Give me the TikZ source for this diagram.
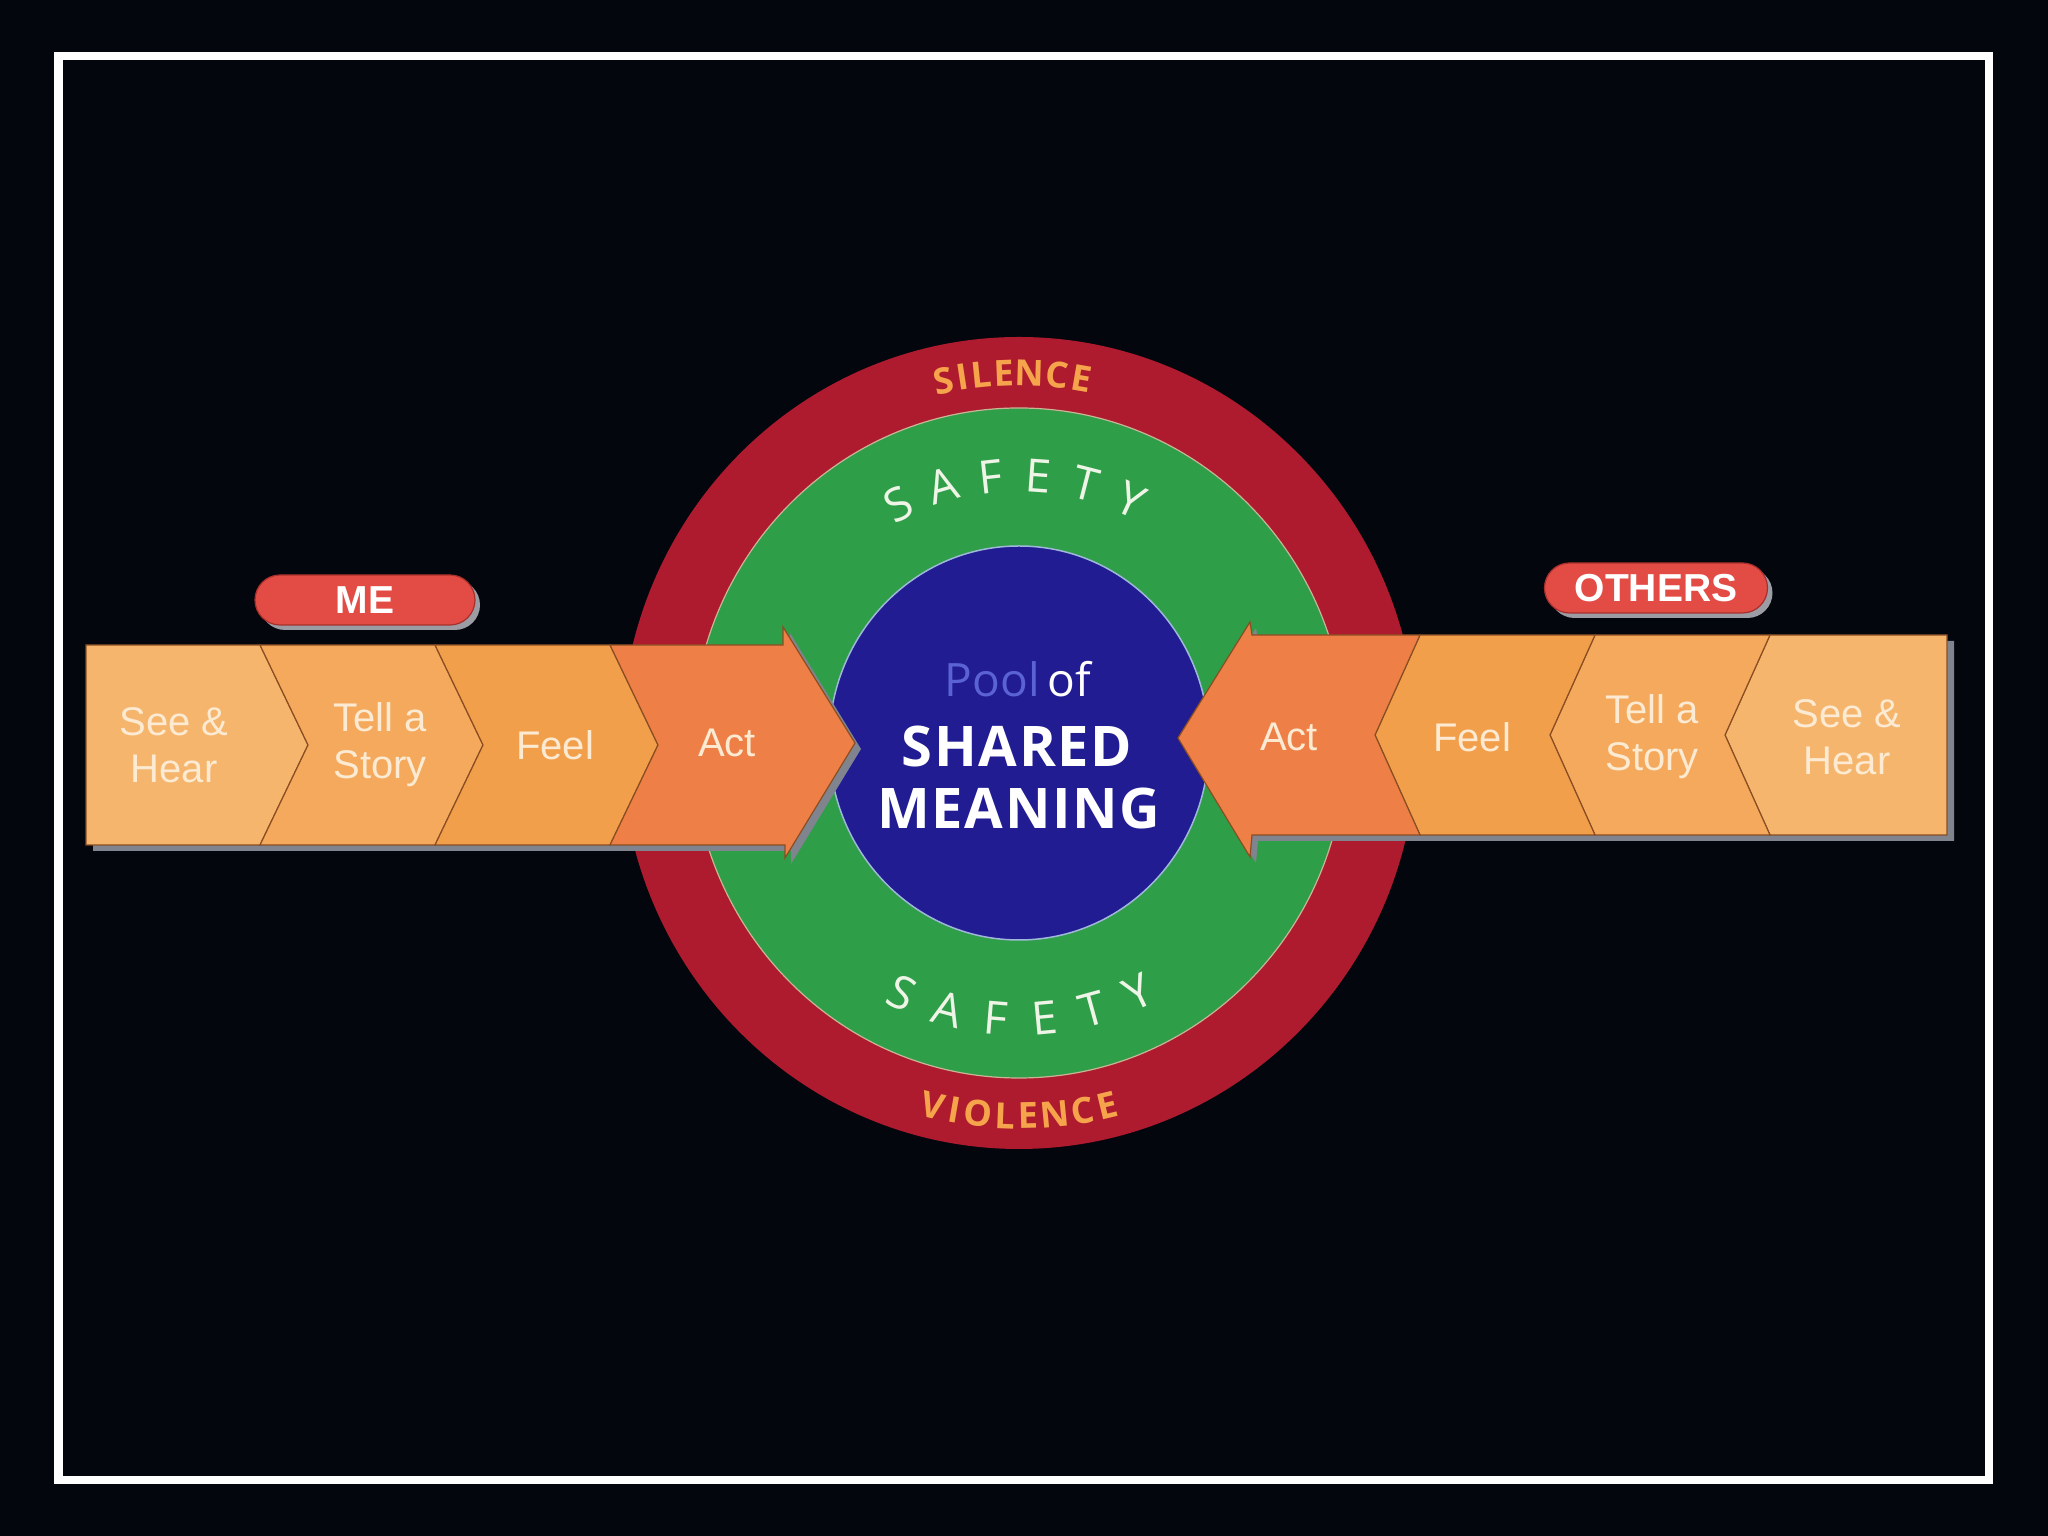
\documentclass[tikz,border=0pt]{standalone}
\usepackage{fontspec}
\setmainfont{Liberation Sans}
\newfontfamily\circfont{Open Sans}
\newfontfamily\sharedfont[LetterSpace=3]{Open Sans}
\usetikzlibrary{shadows}
\definecolor{bgc}{HTML}{03060D}
\definecolor{ringred}{HTML}{AE1A2E}
\definecolor{ringgreen}{HTML}{2F9E48}
\definecolor{poolblue}{HTML}{221C93}
\definecolor{ringtxt}{HTML}{F6A44C}
\definecolor{safetxt}{HTML}{EEF5E6}
\definecolor{poolword}{HTML}{5B63D3}
\definecolor{bandtxt}{HTML}{FCEAD2}
\definecolor{segA}{HTML}{F5B56D}
\definecolor{segB}{HTML}{F4A95C}
\definecolor{segC}{HTML}{F29F4C}
\definecolor{segD}{HTML}{EE8047}
\definecolor{segline}{HTML}{8A4E22}
\definecolor{pillred}{HTML}{E34B45}
\definecolor{pilledge}{HTML}{A8302C}
\definecolor{shadowgray}{HTML}{9C9CA4}
\definecolor{armshadow}{HTML}{80848F}
\definecolor{greenedge}{HTML}{C9B496}
\definecolor{blueedge}{HTML}{9FB7D9}
\begin{document}
\begin{tikzpicture}[x=1pt,y=1pt,
  seg/.style={draw=segline,line width=1.2pt,line join=miter},
  bandlabel/.style={text=bandtxt,align=center,font=\fontsize{40}{47}\selectfont,inner sep=0pt},
  safe/.style={text=safetxt,font=\circfont\fontsize{46}{50}\selectfont,inner sep=0pt},
  ringletter/.style={text=ringtxt,inner sep=0pt},
  pill/.style={fill=pillred,draw=pilledge,line width=1.2pt,rounded corners=25pt,
    minimum width=220pt,minimum height=50pt,inner sep=0pt,text=white,
    font=\bfseries\fontsize{39}{44}\selectfont,
    drop shadow={shadow xshift=5pt,shadow yshift=-5pt,fill=shadowgray,opacity=1}},
  bandshadow/.style={fill=armshadow}]
\useasboundingbox (0,0) rectangle (2048,1536);
\fill[bgc] (0,0) rectangle (2048,1536);
\draw[white,line width=8.5pt] (58.5,56) rectangle (1989,1480);

% rings
\fill[ringred] (1019,793) ellipse [x radius=398,y radius=406];
\filldraw[fill=ringgreen,draw=greenedge,line width=1.2pt] (1019,793) ellipse [x radius=327,y radius=335];
\filldraw[fill=poolblue,draw=blueedge,line width=1.5pt] (1019,793) ellipse [x radius=190,y radius=197];

% SILENCE along the top of the red ring
\gdef\arcpos{0}
\foreach \ch/\w [count=\i] in {S/0.556,I/0.339,L/0.539,E/0.539,N/0.748,C/0.631,E/0.539}{
  \pgfmathsetmacro\myctr{\arcpos+\w*36/2}
  \pgfmathsetmacro\myang{91-(\myctr-(3.891*36+6*3)/2)/370*57.2958}
  \pgfmathsetmacro\myrot{\myang-90}
  \node[ringletter,font=\circfont\bfseries\fontsize{36}{40}\selectfont,rotate=\myrot] (sil\i) at ([shift={(1019,793)}]\myang:370) {\ch};
  \pgfmathsetmacro\nextpos{\arcpos+\w*36+3}
  \global\let\arcpos\nextpos
}
% VIOLENCE along the bottom of the red ring
\gdef\arcpos{0}
\foreach \ch/\w [count=\i] in {V/0.663,I/0.339,O/0.771,L/0.539,E/0.539,N/0.748,C/0.631,E/0.539}{
  \pgfmathsetmacro\myctr{\arcpos+\w*36/2}
  \pgfmathsetmacro\myang{270+(\myctr-(4.769*36+7*3.6)/2)/373*57.2958}
  \pgfmathsetmacro\myrot{\myang-270}
  \node[ringletter,font=\circfont\bfseries\fontsize{36}{40}\selectfont,rotate=\myrot] (vio\i) at ([shift={(1019,793)}]\myang:373) {\ch};
  \pgfmathsetmacro\nextpos{\arcpos+\w*36+3.6}
  \global\let\arcpos\nextpos
}

% SAFETY words
\foreach \ch [count=\i from 0] in {S,A,F,E,T,Y}{
  \pgfmathsetmacro\ang{116.8-10.3*\i}
  \pgfmathsetmacro\rot{\ang-90}
  \node[safe,rotate=\rot] (safetop\i) at ([shift={(1019,793)}]\ang:268) {\ch};
}
\foreach \ch [count=\i from 0] in {S,A,F,E,T,Y}{
  \pgfmathsetmacro\ang{245+10.1*\i}
  \pgfmathsetmacro\rot{\ang+90}
  \node[safe,rotate=\rot] (safebot\i) at ([shift={(1019,793)}]\ang:276) {\ch};
}

% pool text
\node[anchor=base,inner sep=0pt,font=\circfont\fontsize{46}{50}\selectfont] (pool) at (1018,839)
  {\textcolor{poolword}{Pool}\hspace{8pt}\textcolor{white}{of}};
\node[anchor=base,inner sep=0pt,text=white,font=\sharedfont\bfseries\fontsize{56}{60}\selectfont] (shared) at (1017,769) {SHARED};
\node[anchor=base,inner sep=0pt,text=white,font=\sharedfont\bfseries\fontsize{56}{60}\selectfont] (meaning) at (1019,707) {MEANING};

% left band shadow
\fill[bandshadow] (93,885) -- (790,885) -- (790,903) -- (861,787) -- (791,672) -- (791,685) -- (93,685) -- cycle;
% left band
\filldraw[seg,fill=segA] (86,891) -- (260,891) -- (308,791) -- (260,691) -- (86,691) -- cycle;
\filldraw[seg,fill=segB] (260,891) -- (435,891) -- (483,791) -- (435,691) -- (260,691) -- (308,791) -- cycle;
\filldraw[seg,fill=segC] (435,891) -- (610,891) -- (658,791) -- (610,691) -- (435,691) -- (483,791) -- cycle;
\filldraw[seg,fill=segD] (610,891) -- (783,891) -- (783,909) -- (855,793) -- (785,678) -- (785,691) -- (610,691) -- (658,791) -- cycle;

% right band shadow
\fill[bandshadow] (1184,792) -- (1256,908) -- (1258,895) -- (1954,895) -- (1954,695) -- (1258,695) -- (1256,673) -- cycle;
% right band
\filldraw[seg,fill=segA] (1770,901) -- (1947,901) -- (1947,701) -- (1770,701) -- (1725,801) -- cycle;
\filldraw[seg,fill=segB] (1595,901) -- (1770,901) -- (1725,801) -- (1770,701) -- (1595,701) -- (1550,801) -- cycle;
\filldraw[seg,fill=segC] (1420,901) -- (1595,901) -- (1550,801) -- (1595,701) -- (1420,701) -- (1375,801) -- cycle;
\filldraw[seg,fill=segD] (1178,798) -- (1250,914) -- (1252,901) -- (1420,901) -- (1375,801) -- (1420,701) -- (1252,701) -- (1250,679) -- cycle;

% band labels
\node[bandlabel] (lsee) at (174,791) {See \&\\Hear};
\node[bandlabel] (ltell) at (380,791) {Tell a\\Story};
\node[bandlabel] (lfeel) at (555,791) {Feel};
\node[bandlabel] (lact) at (727,793) {Act};
\node[bandlabel] (ract) at (1289,799) {Act};
\node[bandlabel] (rfeel) at (1472,799) {Feel};
\node[bandlabel] (rtell) at (1652,799) {Tell a\\Story};
\node[bandlabel] (rsee) at (1847,799) {See \&\\Hear};

% pills
\node[pill] (me) at (365,936) {ME};
\node[pill,minimum width=223pt] (others) at (1656,948) {OTHERS};
\end{tikzpicture}
\end{document}
